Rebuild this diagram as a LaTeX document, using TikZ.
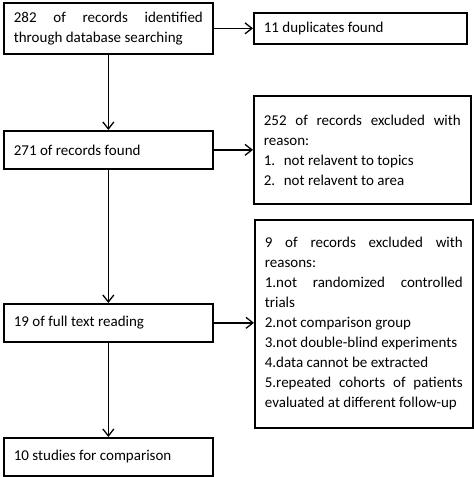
\documentclass[tikz,border=0pt]{standalone}
\usepackage{fontspec}
\setmainfont{Carlito}
\usetikzlibrary{arrows.meta, calc, positioning}

\begin{document}
\begin{tikzpicture}[
		x=1pt, y=-1pt,
		box/.style={draw, line width=1.7pt, anchor=north west, inner xsep=10pt, inner ysep=0pt,
			align=justify, font=\fontsize{15}{20}\selectfont},
		flow/.style={-{Straight Barb[length=7pt, width=11pt, line width=1.3pt]}, line width=1.3pt}
		]

		\useasboundingbox (0,0) rectangle (474,477);

		% --- main column ---
		\node[box, minimum width=209pt, minimum height=51pt, text width=189pt] (search) at (3,2)
			{282 of records identified\linebreak through database searching};
		\node[box, minimum width=209pt, minimum height=38pt, text width=189pt] (found) at (3,130)
			{271 of records found};
		\node[box, minimum width=209pt, minimum height=38pt, text width=189pt] (full) at (3,303)
			{19 of full text reading};
		\node[box, minimum width=209pt, minimum height=38pt, text width=189pt] (final) at (3,437)
			{10 studies for comparison};

		% --- side boxes ---
		\node[box, minimum width=213pt, minimum height=31pt, text width=193pt] (dup) at (253,12)
			{11 duplicates found};
		\node[box, minimum width=217pt, minimum height=108pt, text width=197pt] (excl1) at (253,95)
			{252 of records excluded with\linebreak reason:\newline
			\makebox[20pt][l]{1.}not relavent to topics\newline
			\makebox[20pt][l]{2.}not relavent to area};
		\node[box, minimum width=218pt, minimum height=208pt, text width=198pt] (excl2) at (254,219)
			{9 of records excluded with\linebreak reasons:\newline
			1.not randomized controlled\linebreak trials\newline
			2.not comparison group\newline
			3.not double-blind experiments\newline
			4.data cannot be extracted\newline
			5.repeated cohorts of patients\linebreak evaluated at different follow-up};

		% --- arrows ---
		\draw[flow] (search) -- (found);
		\draw[flow] (found) -- (full);
		\draw[flow] (full) -- (final);
		\draw[flow] (search.east) -- (search.east -| dup.west);
		\draw[flow] (found.east) -- (found.east -| excl1.west);
		\draw[flow] (full.east) -- (full.east -| excl2.west);

	\end{tikzpicture}
\end{document}
